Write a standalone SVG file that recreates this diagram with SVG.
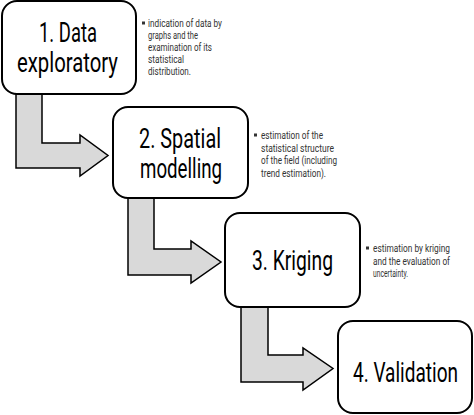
<svg xmlns="http://www.w3.org/2000/svg" width="474" height="415" viewBox="0 0 474 415">
<style>
.box{fill:#fff;stroke:#000;stroke-width:2}
.arrow{fill:#d9d9d9;stroke:#000;stroke-width:1.5;stroke-linejoin:miter}
.title{font-family:Roboto,"Liberation Sans",Arial,sans-serif;font-weight:400;font-size:28px;fill:#000}
.note{font-family:Roboto,"Liberation Sans",Arial,sans-serif;font-size:10px;fill:#333}
.bullet{fill:#333}
</style>
<rect width="474" height="415" fill="#fff"/>
<g id="connectors">
<polygon class="arrow" points="16,94 42,94 42,143 80,143 80,135 108,155.5 80,176 80,168 16,168"/>
<polygon class="arrow" points="128,198 154,198 154,249 191,249 191,241 221,262 191,283 191,275 128,275"/>
<polygon class="arrow" points="241,307 268,307 268,355 303,355 303,348 333,368.5 303,390 303,382 241,382"/>
</g>
<g id="node1">
<rect class="box" x="2" y="1" width="134" height="93" rx="15"/>
<text class="title" transform="translate(39,42) scale(0.6,1)" textLength="96.7" lengthAdjust="spacingAndGlyphs">1. Data</text>
<text class="title" transform="translate(17,72) scale(0.6,1)" textLength="168.3" lengthAdjust="spacingAndGlyphs">exploratory</text>
</g>
<g id="note1">
<rect class="bullet" x="142" y="21.5" width="3" height="3"/>
<text class="note" x="148" y="27" textLength="74" lengthAdjust="spacingAndGlyphs">indication of data by</text>
<text class="note" x="148" y="39" textLength="50" lengthAdjust="spacingAndGlyphs">graphs and the</text>
<text class="note" x="148" y="51" textLength="64" lengthAdjust="spacingAndGlyphs">examination of its</text>
<text class="note" x="148" y="63" textLength="36" lengthAdjust="spacingAndGlyphs">statistical</text>
<text class="note" x="148" y="75" textLength="43" lengthAdjust="spacingAndGlyphs">distribution.</text>
</g>
<g id="node2">
<rect class="box" x="113" y="107" width="135" height="91" rx="15"/>
<text class="title" transform="translate(139,148) scale(0.6,1)" textLength="136.7" lengthAdjust="spacingAndGlyphs">2. Spatial</text>
<text class="title" transform="translate(140,178) scale(0.6,1)" textLength="136.7" lengthAdjust="spacingAndGlyphs">modelling</text>
</g>
<g id="note2">
<rect class="bullet" x="254" y="133.5" width="3" height="3"/>
<text class="note" x="261" y="139" textLength="62" lengthAdjust="spacingAndGlyphs">estimation of the</text>
<text class="note" x="261" y="151.5" textLength="73" lengthAdjust="spacingAndGlyphs">statistical structure</text>
<text class="note" x="261" y="164" textLength="76" lengthAdjust="spacingAndGlyphs">of the field (including</text>
<text class="note" x="261" y="176.5" textLength="65" lengthAdjust="spacingAndGlyphs">trend estimation).</text>
</g>
<g id="node3">
<rect class="box" x="225" y="213" width="135" height="94" rx="15"/>
<text class="title" transform="translate(252,270) scale(0.6,1)" textLength="135" lengthAdjust="spacingAndGlyphs">3. Kriging</text>
</g>
<g id="note3">
<rect class="bullet" x="366" y="246.5" width="3" height="3"/>
<text class="note" x="373" y="252" font-size="9.5" textLength="77" lengthAdjust="spacingAndGlyphs">estimation by kriging</text>
<text class="note" x="373" y="264.5" font-size="9.5" textLength="77" lengthAdjust="spacingAndGlyphs">and the evaluation of</text>
<text class="note" x="373" y="277" font-size="9.5" textLength="35" lengthAdjust="spacingAndGlyphs">uncertainty.</text>
</g>
<g id="node4">
<rect class="box" x="338" y="321" width="134" height="92" rx="15"/>
<text class="title" transform="translate(353,382) scale(0.6,1)" textLength="175" lengthAdjust="spacingAndGlyphs">4. Validation</text>
</g>
</svg>
